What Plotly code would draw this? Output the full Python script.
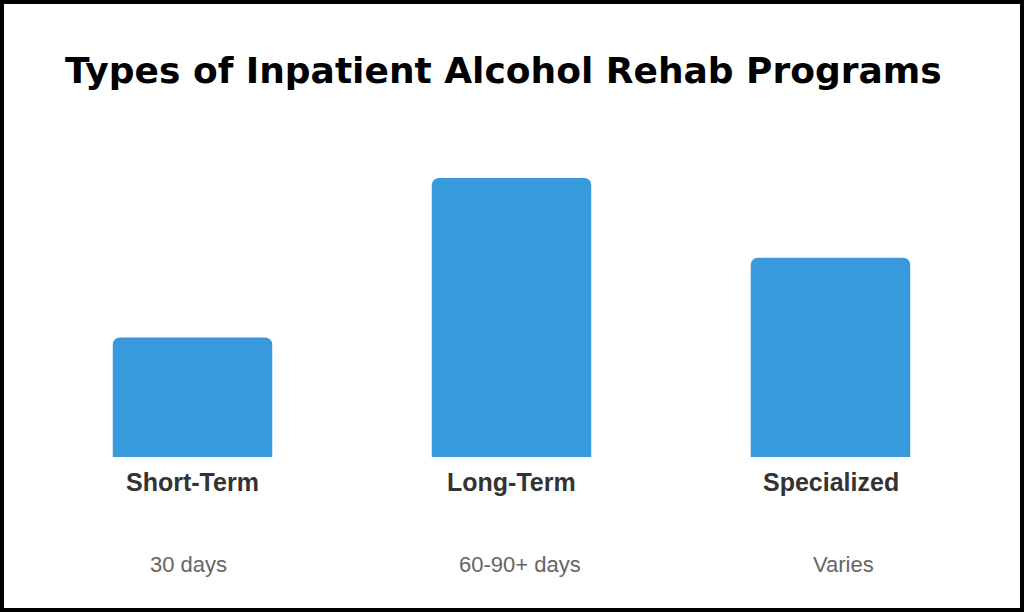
import plotly.graph_objects as go

categories = ["Short-Term", "Long-Term", "Specialized"]
durations = ["30 days", "60-90+ days", "Varies"]
values = [30, 70, 50]
duration_shift = [-4, 8, 13]

W, H = 1024, 612
L, R, T, B = 33, 34, 138, 155
pw, ph = W - L - R, H - T - B

fig = go.Figure(go.Bar(
    x=list(range(len(categories))), y=values, width=0.5,
    marker=dict(color="#3899dc", line=dict(width=0)),
    hoverinfo="skip",
))

for i, (c, d) in enumerate(zip(categories, durations)):
    fig.add_annotation(x=i, y=0, xref="x", yref="y", text=f"<b>{c}</b>",
                       showarrow=False, yanchor="middle", yshift=-25,
                       font=dict(family="Liberation Sans, Arial", size=25, color="#333333"))
    fig.add_annotation(x=i, y=0, xref="x", yref="y", text=d,
                       showarrow=False, yanchor="middle", yshift=-107, xshift=duration_shift[i],
                       font=dict(family="Liberation Sans, Arial", size=22, color="#666666"))

fig.add_annotation(x=(63 - L) / pw, y=(H - B - 71) / ph, xref="paper", yref="paper",
                   text="<b>Types of Inpatient Alcohol Rehab Programs</b>",
                   showarrow=False, xanchor="left", yanchor="middle",
                   font=dict(family="DejaVu Sans", size=36, color="#000000"))

# border
fig.add_shape(type="rect", xref="paper", yref="paper",
              x0=(2 - L) / pw, x1=(W - 2 - L) / pw,
              y0=(H - B - (H - 2)) / ph, y1=(H - B - 2) / ph,
              line=dict(color="black", width=4), fillcolor="rgba(0,0,0,0)", layer="above")

fig.update_layout(
    width=W, height=H, margin=dict(l=L, r=R, t=T, b=B),
    paper_bgcolor="white", plot_bgcolor="white",
    barcornerradius=7, showlegend=False,
    xaxis=dict(range=[-0.5, 2.5], visible=False),
    yaxis=dict(range=[0, 80], visible=False),
)

fig.write_html("out.html", config={"displayModeBar": False},
               post_script="document.body.style.margin='0';document.body.style.overflow='hidden';")
